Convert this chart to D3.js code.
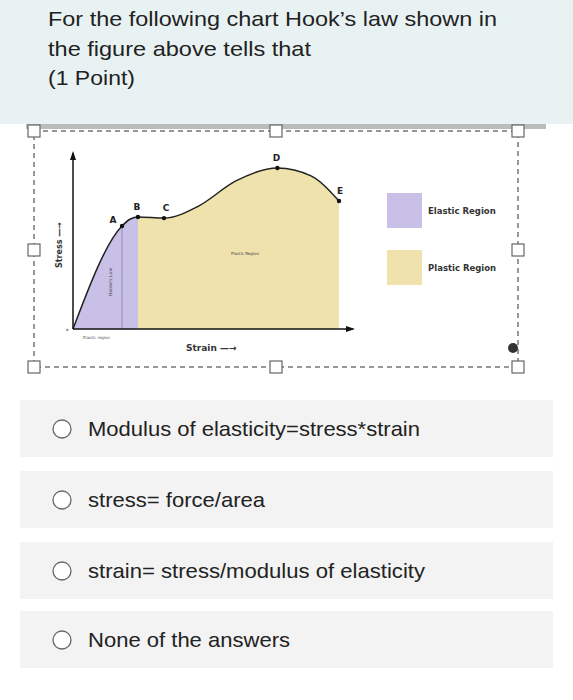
<!DOCTYPE html><html><head><meta charset="utf-8">
<script src="https://cdn.jsdelivr.net/npm/d3@7"></script>
<style>body{margin:0;background:#fff}svg{display:block}</style></head><body>
<script>
const curveStrain=[0,17.5,20.5,23.2,32.5,45,58,73,85,95];
const curveStress=[0,58.5,62.5,63.6,63,70,84,91.5,87,72.7];
const pointLabels=["A","B","C","D","E"];
const pointIdx=[1,3,4,7,9];
const legendLabels=["Elastic Region","Plastic Region"];
const legendColors=["#c8c0e6","#efe2ad"];
const options=["Modulus of elasticity=stress*strain","stress= force/area","strain= stress/modulus of elasticity","None of the answers"];
const optionWidths=[332,177,337,202];
const question=["For the following chart Hook\u2019s law shown in","the figure above tells that","(1 Point)"];
const questionWidths=[449,263,87];

const svg=d3.select("body").append("svg").attr("width",573).attr("height",700);
svg.append("rect").attr("width",573).attr("height",124).attr("fill","#e9f2f3");
svg.selectAll("text.q").data(question).join("text").attr("x",48).attr("y",(d,i)=>26+i*29.5)
 .attr("font-family","Liberation Sans, Arial").attr("font-size",21).attr("textLength",(d,i)=>questionWidths[i]).attr("lengthAdjust","spacingAndGlyphs").attr("fill","#222").text(d=>d);
svg.append("rect").attr("x",20).attr("y",124).attr("width",533).attr("height",250).attr("fill","#fff");
svg.append("rect").attr("x",26).attr("y",124).attr("width",520).attr("height",5).attr("fill","#bbb");
svg.append("rect").attr("x",34).attr("y",131).attr("width",484).attr("height",236).attr("fill","none")
 .attr("stroke","#777").attr("stroke-width",1.5).attr("stroke-dasharray","5,4");
[[34,131],[276,131],[518,131],[34,250],[518,250],[34,367],[276,367],[518,367]].forEach(([x,y])=>
 svg.append("rect").attr("x",x-6).attr("y",y-6).attr("width",12).attr("height",12).attr("fill","#fff").attr("stroke","#666").attr("stroke-width",1.2));

const x=d3.scaleLinear().domain([0,100]).range([73,353]);
const y=d3.scaleLinear().domain([0,100]).range([329,153]);
const pts=curveStrain.map((s,i)=>[s,curveStress[i]]);
const line=d3.line().x(d=>x(d[0])).y(d=>y(d[1])).curve(d3.curveMonotoneX);
const area=d3.area().x(d=>x(d[0])).y0(y(0)).y1(d=>y(d[1])).curve(d3.curveMonotoneX);
const bIdx=3;
svg.append("path").attr("d",area(pts)).attr("fill",legendColors[1]);
svg.append("path").attr("d",area(pts.slice(0,bIdx+1))).attr("fill",legendColors[0]);
svg.append("line").attr("x1",x(17.5)).attr("x2",x(17.5)).attr("y1",y(0)).attr("y2",y(58.5)).attr("stroke","#8a80b0").attr("stroke-width",0.8);
svg.append("path").attr("d",line(pts)).attr("fill","none").attr("stroke","#222").attr("stroke-width",1.5);
svg.append("line").attr("x1",x(0)).attr("y1",y(0)).attr("x2",x(0)).attr("y2",y(100)).attr("stroke","#111").attr("stroke-width",1.5);
svg.append("path").attr("d",`M${x(0)-3},${y(100)+7}L${x(0)},${y(100)-2}L${x(0)+3},${y(100)+7}Z`).attr("fill","#111");
svg.append("line").attr("x1",x(0)).attr("y1",y(0)).attr("x2",x(100)).attr("y2",y(0)).attr("stroke","#111").attr("stroke-width",1.5);
svg.append("path").attr("d",`M${x(100)-7},${y(0)-3}L${x(100)+2},${y(0)}L${x(100)-7},${y(0)+3}Z`).attr("fill","#111");
pointIdx.forEach((pi,k)=>{
 const px=x(pts[pi][0]),py=y(pts[pi][1]);
 svg.append("circle").attr("cx",px).attr("cy",py).attr("r",2.2).attr("fill","#111");
 const off=[[-9,-3],[-1,-7],[2,-7],[-1,-7],[1,-7]][k];
 svg.append("text").attr("x",px+off[0]).attr("y",py+off[1]).attr("text-anchor","middle").attr("font-family","DejaVu Sans").attr("font-weight","bold").attr("font-size",9).attr("fill","#222").text(pointLabels[k]);
});
const f="DejaVu Sans";
svg.append("text").attr("x",66).attr("y",331).attr("font-size",4).attr("font-family",f).text("o");
svg.append("text").attr("x",83).attr("y",339).attr("font-size",4).attr("font-family",f).attr("fill","#555").text("Elastic region");
svg.append("text").attr("transform",`translate(112,296) rotate(-90)`).attr("font-size",4.5).attr("font-family",f).attr("fill","#445").text("Hooke's Law");
svg.append("text").attr("x",245).attr("y",255).attr("font-size",4).attr("font-family",f).attr("text-anchor","middle").attr("fill","#444").text("Plastic Region");
svg.append("text").attr("x",186).attr("y",351).attr("font-size",9).attr("font-weight","bold").attr("font-family",f).attr("fill","#333").text("Strain  \u2014\u2192");
svg.append("text").attr("transform",`translate(62,268) rotate(-90)`).attr("font-size",8).attr("font-weight","bold").attr("font-family",f).attr("fill","#333").text("Stress \u2014\u2192");
legendLabels.forEach((l,i)=>{
 svg.append("rect").attr("x",387).attr("y",193+i*57).attr("width",35).attr("height",35).attr("fill",legendColors[i]);
 svg.append("text").attr("x",428).attr("y",214+i*57).attr("font-size",8.5).attr("font-weight","bold").attr("font-family",f).attr("fill","#333").text(l);
});
svg.append("circle").attr("cx",513).attr("cy",348).attr("r",5).attr("fill","#333");
options.forEach((o,i)=>{
 const top=[400,471,542,611][i];
 svg.append("rect").attr("x",20).attr("y",top).attr("width",533).attr("height",57).attr("fill","#f3f3f3");
 svg.append("circle").attr("cx",62).attr("cy",top+29).attr("r",9).attr("fill","#fff").attr("stroke","#666").attr("stroke-width",1.3);
 svg.append("text").attr("x",88).attr("y",top+36).attr("font-family","Liberation Sans, Arial").attr("font-size",21).attr("textLength",optionWidths[i]).attr("lengthAdjust","spacingAndGlyphs").attr("fill","#222").text(o);
});
</script></body></html>
